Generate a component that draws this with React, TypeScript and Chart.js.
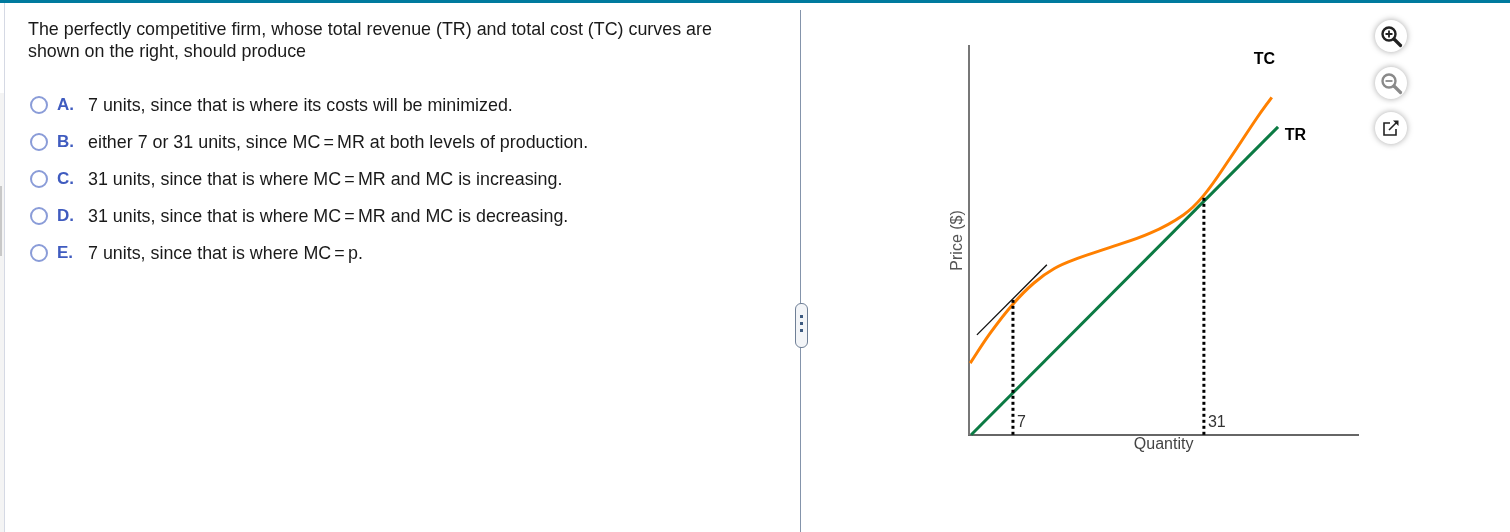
import React, { useEffect, useRef } from "react";
import { Chart, registerables } from "chart.js";

Chart.register(...registerables);

// Chart data (quantity on x, price on y, in the picture's own units)
const tcQuantity = [1.63, 4.14, 6.99, 9.6, 12.2, 15.2, 18.84, 24.24, 28.42, 30.93, 34.29, 37.64, 39.53];
const tcPrice = [9.01, 12.78, 16.42, 19.05, 20.9, 22.2, 23.43, 25.34, 27.64, 30.03, 34.76, 39.79, 42.42];
const trQuantity = [1.75, 40.32];
const trPrice = [0, 38.7];
const tangentQuantity = [2.47, 11.26];
const tangentPrice = [12.56, 21.36];
const dropQuantity7 = [7, 7];
const dropPrice7 = [0, 16.96];
const dropQuantity31 = [31, 31];
const dropPrice31 = [0, 30.1];
const tickLabels = ["7", "31"];
const tickValues = [7, 31];
const curveLabels = ["TC", "TR"];
const curveLabelQuantity = [38.6, 42.5];
const curveLabelPrice = [47.2, 37.6];

const question = [
  "The perfectly competitive firm, whose total revenue (TR) and total cost (TC) curves are",
  "shown on the right, should produce",
];
const optionLetters = ["A.", "B.", "C.", "D.", "E."];
const optionTexts = [
  "7 units, since that is where its costs will be minimized.",
  "either 7 or 31 units, since MC = MR at both levels of production.",
  "31 units, since that is where MC = MR and MC is increasing.",
  "31 units, since that is where MC = MR and MC is decreasing.",
  "7 units, since that is where MC = p.",
];

const zip = (xs: number[], ys: number[]) => xs.map((x, i) => ({ x, y: ys[i] }));
const FONT = '"Liberation Sans", Arial, sans-serif';

const textPlugin = {
  id: "curveText",
  afterDatasetsDraw(chart: any) {
    const { ctx, scales } = chart;
    ctx.save();
    ctx.textBaseline = "middle";
    ctx.textAlign = "left";
    ctx.font = `16px ${FONT}`;
    ctx.fillStyle = "#333";
    tickLabels.forEach((t, i) => {
      ctx.fillText(t, scales.x.getPixelForValue(tickValues[i]) + 4, scales.y.getPixelForValue(0) - 12);
    });
    ctx.textAlign = "center";
    ctx.font = `bold 16px ${FONT}`;
    ctx.fillStyle = "#000";
    curveLabels.forEach((t, i) => {
      ctx.fillText(t, scales.x.getPixelForValue(curveLabelQuantity[i]), scales.y.getPixelForValue(curveLabelPrice[i]));
    });
    ctx.restore();
  },
};

function Icon({ top, children }: { top: number; children: React.ReactNode }) {
  return (
    <div
      style={{
        position: "absolute",
        left: 1375,
        top,
        width: 32,
        height: 32,
        borderRadius: "50%",
        background: "#fff",
        boxShadow: "0 0 6px rgba(0,0,0,0.35)",
      }}
    >
      <svg width="32" height="32" viewBox="0 0 32 32" fill="none">
        {children}
      </svg>
    </div>
  );
}

function Option({ text }: { text: string }) {
  const parts = text.split(/(\S+ = \S+)/);
  return (
    <>
      {parts.map((p, i) =>
        i % 2 === 1 ? (
          <span key={i} style={{ wordSpacing: -1.8 }}>
            {p}
          </span>
        ) : (
          <span key={i}>{p}</span>
        ),
      )}
    </>
  );
}

export default function App() {
  const ref = useRef<HTMLCanvasElement>(null);
  useEffect(() => {
    const line = (data: any[], color: string, width: number, extra: any = {}) => ({
      data,
      borderColor: color,
      borderWidth: width,
      pointRadius: 0,
      showLine: true,
      fill: false,
      clip: false,
      ...extra,
    });
    const chart = new Chart(ref.current as HTMLCanvasElement, {
      type: "scatter",
      data: {
        datasets: [
          line(zip(dropQuantity7, dropPrice7), "#000", 3, { borderDash: [3, 3] }),
          line(zip(dropQuantity31, dropPrice31), "#000", 3, { borderDash: [3, 3] }),
          line(zip(trQuantity, trPrice), "#0b7a43", 3),
          line(zip(tcQuantity, tcPrice), "#ff8000", 3, { tension: 0.4 }),
          line(zip(tangentQuantity, tangentPrice), "#111", 1.4),
        ],
      },
      options: {
        animation: false,
        responsive: false,
        devicePixelRatio: 1,
        layout: { padding: { left: 948, top: 46, right: 152, bottom: 78 } },
        plugins: { legend: { display: false }, tooltip: { enabled: false } },
        scales: {
          x: {
            type: "linear",
            min: 1.5,
            max: 50.37,
            grid: { display: false, drawTicks: false },
            ticks: { display: false },
            border: { color: "#666", width: 2 },
            title: { display: true, text: "Quantity", color: "#444", font: { family: FONT, size: 16 }, padding: { top: 0, bottom: 0 } },
          },
          y: {
            type: "linear",
            min: 0,
            max: 48.87,
            grid: { display: false, drawTicks: false },
            ticks: { display: false },
            border: { color: "#777", width: 2 },
            title: { display: true, text: "Price ($)", color: "#555", font: { family: FONT, size: 16 }, padding: { top: 0, bottom: 2 } },
          },
        },
      },
      plugins: [textPlugin],
    } as any);
    return () => chart.destroy();
  }, []);

  return (
    <div style={{ position: "absolute", left: 0, top: 0, width: 1510, height: 532, overflow: "hidden", background: "#fff", fontFamily: FONT, color: "#1a1a1a" }}>
      <canvas ref={ref} width={1510} height={532} style={{ position: "absolute", left: 0, top: 0, width: 1510, height: 532 }} />
      <div style={{ position: "absolute", left: 0, top: 0, width: 1510, height: 3, background: "#007a9e" }} />
      <div style={{ position: "absolute", left: 4, top: 3, width: 1, height: 529, background: "#d5d9e4" }} />
      <div style={{ position: "absolute", left: 0, top: 93, width: 4, height: 439, background: "#f4f4f4" }} />
      <div style={{ position: "absolute", left: 0, top: 186, width: 2, height: 70, background: "#c8c8c8" }} />
      <div style={{ position: "absolute", left: 800, top: 10, width: 1, height: 522, background: "#8494ab" }} />
      <div style={{ position: "absolute", left: 795, top: 303, width: 11, height: 43, borderRadius: 6, border: "1px solid #6f7f96", background: "#f3f5f8" }}>
        {[12, 19, 26].map((t) => (
          <div key={t} style={{ position: "absolute", left: 4, top: t - 1, width: 3, height: 3, background: "#3d5a80" }} />
        ))}
      </div>
      {question.map((q, i) => (
        <div key={q} style={{ position: "absolute", left: 28, top: 18 + i * 22, fontSize: 17.87, lineHeight: "22px", whiteSpace: "nowrap" }}>
          {q}
        </div>
      ))}
      {optionLetters.map((l, i) => (
        <React.Fragment key={l}>
          <div style={{ position: "absolute", left: 30, top: 96 + i * 37, width: 14, height: 14, borderRadius: "50%", border: "2px solid #8a9cd8", background: "#fff" }} />
          <div style={{ position: "absolute", left: 57, top: 94 + i * 37, fontSize: 17, lineHeight: "22px", fontWeight: 700, color: "#3f5bbf" }}>{l}</div>
          <div style={{ position: "absolute", left: 88, top: 94 + i * 37, fontSize: 17.87, lineHeight: "22px", whiteSpace: "nowrap" }}>
            <Option text={optionTexts[i]} />
          </div>
        </React.Fragment>
      ))}
      <Icon top={20}>
        <circle cx="14" cy="14" r="6.5" stroke="#222" strokeWidth="2.4" />
        <path d="M19 19l6.5 6.5" stroke="#222" strokeWidth="3.2" strokeLinecap="round" />
        <path d="M14 10.5v7M10.5 14h7" stroke="#222" strokeWidth="1.8" />
      </Icon>
      <Icon top={67}>
        <circle cx="14" cy="14" r="6.5" stroke="#8a8a8a" strokeWidth="2.4" />
        <path d="M19 19l6.5 6.5" stroke="#8a8a8a" strokeWidth="3.2" strokeLinecap="round" />
        <path d="M10.5 14h7" stroke="#8a8a8a" strokeWidth="1.8" />
      </Icon>
      <Icon top={112}>
        <path d="M15 11H9v12h12v-6" stroke="#222" strokeWidth="1.6" />
        <path d="M14 18l8-8" stroke="#222" strokeWidth="1.6" />
        <path d="M18 8.5h5.5V14z" fill="#222" />
      </Icon>
    </div>
  );
}
